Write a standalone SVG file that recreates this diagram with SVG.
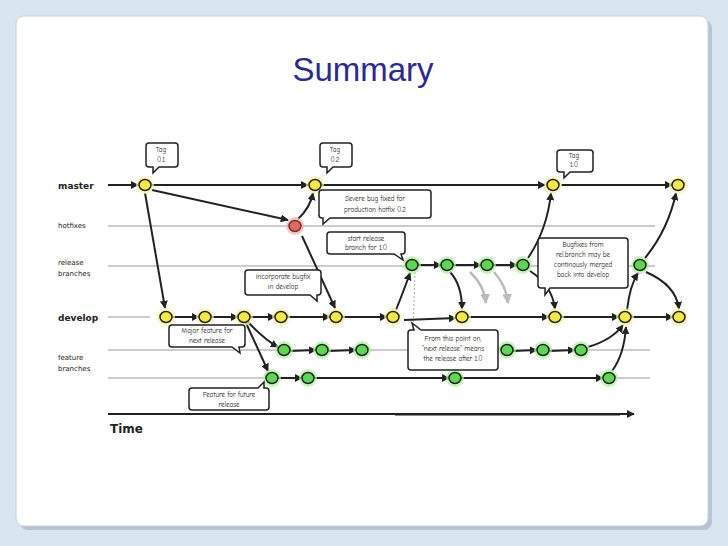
<svg xmlns="http://www.w3.org/2000/svg" width="728" height="546" viewBox="0 0 728 546">
<defs>
<marker id="ah" viewBox="0 0 10 10" refX="9" refY="5" markerWidth="4" markerHeight="4" orient="auto"><path d="M0,0 L10,5 L0,10 z" fill="#222"/></marker>
<marker id="ahg" viewBox="0 0 10 10" refX="9" refY="5" markerWidth="4" markerHeight="4" orient="auto"><path d="M0,0 L10,5 L0,10 z" fill="#bbb"/></marker>
<style>
.lane{stroke:#ccc;stroke-width:2}
.c{fill:none;stroke:#222;stroke-width:2;marker-end:url(#ah)}
.cg{fill:none;stroke:#bbb;stroke-width:2.5;marker-end:url(#ahg)}
.y{fill:#f2e84a;stroke:#222;stroke-width:1.5}
.g{fill:#5fd653;stroke:#222;stroke-width:1.5}
.r{fill:#dd6a5e;stroke:#733;stroke-width:1.5}
.gy{fill:#f7f3a0;opacity:.7}
.gg{fill:#aef0a0;opacity:.7}
.b{fill:#fff;stroke:#222;stroke-width:1.5}
.t{font-family:"Comic Neue","DejaVu Sans",sans-serif;font-size:7px;fill:#222;text-anchor:middle}
.l{font-family:"DejaVu Sans",sans-serif;font-size:7px;fill:#222}
.lb{font-family:"DejaVu Sans",sans-serif;font-size:9px;font-weight:bold;fill:#222}
</style>
</defs>
<rect width="728" height="546" fill="#d9e6f2"/>
<rect x="20" y="20" width="692" height="510" rx="8" fill="#b8c4d0"/>
<rect x="16" y="16" width="692" height="510" rx="8" fill="#fff" stroke="#c8d2dc"/>
<text x="363" y="81" font-family="Liberation Sans,sans-serif" font-size="33" fill="#2e2a8c" text-anchor="middle">Summary</text>

<g id="labels">
<text class="lb" x="58" y="189">master</text>
<text class="l" x="58" y="228">hotfixes</text>
<text class="l" x="58" y="265">release</text>
<text class="l" x="58" y="276">branches</text>
<text class="lb" x="58" y="321">develop</text>
<text class="l" x="58" y="360">feature</text>
<text class="l" x="58" y="371">branches</text>
<text x="110" y="433" font-family="DejaVu Sans,sans-serif" font-size="12" font-weight="bold" fill="#222">Time</text>
</g>

<g id="lanes">
<line class="lane" x1="108" y1="226" x2="655" y2="226"/>
<line class="lane" x1="108" y1="266" x2="655" y2="266"/>
<line class="lane" x1="108" y1="317" x2="150" y2="317"/>
<line class="lane" x1="108" y1="350" x2="650" y2="350"/>
<line class="lane" x1="108" y1="378" x2="650" y2="378"/>
<line x1="415" y1="272" x2="413" y2="330" stroke="#aaa" stroke-dasharray="2,2"/>
</g>

<g id="connectors">
<line class="c" x1="108" y1="185" x2="138" y2="185"/>
<line class="c" x1="152" y1="185" x2="308" y2="185"/>
<line class="c" x1="320" y1="185" x2="545" y2="185"/>
<line class="c" x1="561" y1="185" x2="672" y2="185"/>
<line class="c" x1="145" y1="193" x2="165" y2="308"/>
<line class="c" x1="152" y1="190" x2="288" y2="220"/>
<path class="c" d="M298,219 Q310,208 313,193"/>
<line class="c" x1="302" y1="236" x2="335" y2="308"/>
<line class="c" x1="172" y1="317" x2="199" y2="317"/>
<line class="c" x1="211" y1="317" x2="238" y2="317"/>
<line class="c" x1="250" y1="317" x2="275" y2="317"/>
<line class="c" x1="287" y1="317" x2="330" y2="317"/>
<line class="c" x1="342" y1="317" x2="387" y2="317"/>
<line class="c" x1="404" y1="320" x2="456" y2="318"/>
<line class="c" x1="468" y1="317" x2="549" y2="317"/>
<line class="c" x1="561" y1="317" x2="619" y2="317"/>
<line class="c" x1="631" y1="317" x2="673" y2="317"/>
<path class="c" d="M396,310 Q404,290 410,273"/>
<line class="c" x1="418" y1="265" x2="441" y2="265"/>
<line class="c" x1="453" y1="265" x2="481" y2="265"/>
<line class="c" x1="493" y1="265" x2="517" y2="265"/>
<path class="c" d="M450,272 Q462,285 462,309"/>
<path class="cg" d="M470,272 Q484,285 486,303"/>
<path class="cg" d="M494,272 Q506,285 508,303"/>
<path class="c" d="M528,258 Q547,230 551,193"/>
<path class="c" d="M530,271 Q552,285 555,309"/>
<path class="c" d="M645,258 Q668,230 676,193"/>
<path class="c" d="M646,272 Q676,285 679,309"/>
<path class="c" d="M627,310 Q630,285 638,273"/>
<path class="c" d="M248,322 Q265,340 278,347"/>
<line class="c" x1="246" y1="323" x2="268" y2="371"/>
<line class="c" x1="290" y1="351" x2="316" y2="350"/>
<line class="c" x1="328" y1="351" x2="356" y2="350"/>
<line class="c" x1="513" y1="351" x2="537" y2="350"/>
<line class="c" x1="549" y1="351" x2="575" y2="350"/>
<path class="c" d="M588,347 Q612,340 623,325"/>
<line class="c" x1="278" y1="378" x2="302" y2="378"/>
<line class="c" x1="314" y1="378" x2="449" y2="378"/>
<line class="c" x1="461" y1="378" x2="603" y2="378"/>
<path class="c" d="M612,371 Q624,355 626,327"/>
<line class="c" x1="108" y1="414" x2="634" y2="414"/>
<path d="M395,413 L620,413 L620,415.5 L395,415.5 z" fill="#222"/>
</g>

<g id="nodes">
<g id="m1"><circle class="gy" cx="145" cy="185" r="9"/><ellipse class="y" cx="145" cy="185" rx="6" ry="5.5"/></g>
<g id="m2"><circle class="gy" cx="315" cy="185" r="9"/><ellipse class="y" cx="315" cy="185" rx="6" ry="5.5"/></g>
<g id="m3"><circle class="gy" cx="553" cy="185" r="9"/><ellipse class="y" cx="553" cy="185" rx="6" ry="5.5"/></g>
<g id="m4"><circle class="gy" cx="678" cy="185" r="9"/><ellipse class="y" cx="678" cy="185" rx="6" ry="5.5"/></g>
<g id="h1"><circle fill="#f0b0a8" opacity=".7" cx="295" cy="226" r="9"/><ellipse class="r" cx="295" cy="226" rx="6" ry="5.5"/></g>
<g id="r1"><circle class="gg" cx="412" cy="265" r="9"/><ellipse class="g" cx="412" cy="265" rx="6" ry="5.5"/></g>
<g id="r2"><circle class="gg" cx="447" cy="265" r="9"/><ellipse class="g" cx="447" cy="265" rx="6" ry="5.5"/></g>
<g id="r3"><circle class="gg" cx="487" cy="265" r="9"/><ellipse class="g" cx="487" cy="265" rx="6" ry="5.5"/></g>
<g id="r4"><circle class="gg" cx="523" cy="265" r="9"/><ellipse class="g" cx="523" cy="265" rx="6" ry="5.5"/></g>
<g id="r5"><circle class="gg" cx="640" cy="265" r="9"/><ellipse class="g" cx="640" cy="265" rx="6" ry="5.5"/></g>
<g id="d1"><circle class="gy" cx="166" cy="317" r="9"/><ellipse class="y" cx="166" cy="317" rx="6" ry="5.5"/></g>
<g id="d2"><circle class="gy" cx="205" cy="317" r="9"/><ellipse class="y" cx="205" cy="317" rx="6" ry="5.5"/></g>
<g id="d3"><circle class="gy" cx="244" cy="317" r="9"/><ellipse class="y" cx="244" cy="317" rx="6" ry="5.5"/></g>
<g id="d4"><circle class="gy" cx="281" cy="317" r="9"/><ellipse class="y" cx="281" cy="317" rx="6" ry="5.5"/></g>
<g id="d5"><circle class="gy" cx="336" cy="317" r="9"/><ellipse class="y" cx="336" cy="317" rx="6" ry="5.5"/></g>
<g id="d6"><circle class="gy" cx="393" cy="317" r="9"/><ellipse class="y" cx="393" cy="317" rx="6" ry="5.5"/></g>
<g id="d7"><circle class="gy" cx="462" cy="317" r="9"/><ellipse class="y" cx="462" cy="317" rx="6" ry="5.5"/></g>
<g id="d8"><circle class="gy" cx="555" cy="317" r="9"/><ellipse class="y" cx="555" cy="317" rx="6" ry="5.5"/></g>
<g id="d9"><circle class="gy" cx="625" cy="317" r="9"/><ellipse class="y" cx="625" cy="317" rx="6" ry="5.5"/></g>
<g id="d10"><circle class="gy" cx="679" cy="317" r="9"/><ellipse class="y" cx="679" cy="317" rx="6" ry="5.5"/></g>
<g id="f1"><circle class="gg" cx="284" cy="350" r="9"/><ellipse class="g" cx="284" cy="350" rx="6" ry="5.5"/></g>
<g id="f2"><circle class="gg" cx="322" cy="350" r="9"/><ellipse class="g" cx="322" cy="350" rx="6" ry="5.5"/></g>
<g id="f3"><circle class="gg" cx="362" cy="350" r="9"/><ellipse class="g" cx="362" cy="350" rx="6" ry="5.5"/></g>
<g id="f4"><circle class="gg" cx="507" cy="350" r="9"/><ellipse class="g" cx="507" cy="350" rx="6" ry="5.5"/></g>
<g id="f5"><circle class="gg" cx="543" cy="350" r="9"/><ellipse class="g" cx="543" cy="350" rx="6" ry="5.5"/></g>
<g id="f6"><circle class="gg" cx="581" cy="350" r="9"/><ellipse class="g" cx="581" cy="350" rx="6" ry="5.5"/></g>
<g id="g1"><circle class="gg" cx="272" cy="378" r="9"/><ellipse class="g" cx="272" cy="378" rx="6" ry="5.5"/></g>
<g id="g2"><circle class="gg" cx="308" cy="378" r="9"/><ellipse class="g" cx="308" cy="378" rx="6" ry="5.5"/></g>
<g id="g3"><circle class="gg" cx="455" cy="378" r="9"/><ellipse class="g" cx="455" cy="378" rx="6" ry="5.5"/></g>
<g id="g4"><circle class="gg" cx="609" cy="378" r="9"/><ellipse class="g" cx="609" cy="378" rx="6" ry="5.5"/></g>
</g>

<g id="callouts">
<g id="tag01"><path class="b" d="M149,143 h26 q3,0 3,3 v18 q0,3 -3,3 h-16 l-6,6 l0,-6 h-4 q-3,0 -3,-3 v-18 q0,-3 3,-3 z"/><text class="t" x="161" y="152">Tag</text><text class="t" x="161" y="162">0.1</text></g>
<g id="tag02"><path class="b" d="M323,143 h26 q3,0 3,3 v18 q0,3 -3,3 h-16 l-6,6 l0,-6 h-4 q-3,0 -3,-3 v-18 q0,-3 3,-3 z"/><text class="t" x="335" y="152">Tag</text><text class="t" x="335" y="162">0.2</text></g>
<g id="tag10"><path class="b" d="M560,150 h30 q3,0 3,3 v16 q0,3 -3,3 h-20 l-6,6 l0,-6 h-4 q-3,0 -3,-3 v-16 q0,-3 3,-3 z"/><text class="t" x="574" y="158">Tag</text><text class="t" x="574" y="167">1.0</text></g>
<g id="severe"><path class="b" d="M322,190 h106 q3,0 3,3 v22 q0,3 -3,3 h-98 l-7,6 l0,-6 h-1 q-3,0 -3,-3 v-22 q0,-3 3,-3 z"/><text class="t" x="375" y="201">Severe bug fixed for</text><text class="t" x="375" y="212">production hotfix 0.2</text></g>
<g id="startrel"><path class="b" d="M330,232 h72 q3,0 3,3 v16 q0,3 -3,3 h-1 l2,6 l-9,-6 h-64 q-3,0 -3,-3 v-16 q0,-3 3,-3 z"/><text class="t" x="366" y="241">start release</text><text class="t" x="366" y="250">branch for 1.0</text></g>
<g id="incorp"><path class="b" d="M248,270 h70 q3,0 3,3 v19 q0,3 -3,3 h-1 l0,6 l-7,-6 h-62 q-3,0 -3,-3 v-19 q0,-3 3,-3 z"/><text class="t" x="283" y="279">incorporate bugfix</text><text class="t" x="283" y="289">in develop</text></g>
<g id="bugfixes"><path class="b" d="M541,238 h84 q3,0 3,3 v44 q0,3 -3,3 h-75 l-5,7 l0,-7 h-4 q-3,0 -3,-3 v-44 q0,-3 3,-3 z"/><text class="t" x="583" y="247">Bugfixes from</text><text class="t" x="583" y="257">rel.branch may be</text><text class="t" x="583" y="267">continously merged</text><text class="t" x="583" y="277">back into develop</text></g>
<g id="major"><path class="b" d="M172,325 h70 q3,0 3,3 v16 q0,3 -3,3 h-3 l1,6 l-8,-6 h-60 q-3,0 -3,-3 v-16 q0,-3 3,-3 z"/><text class="t" x="207" y="333">Major feature for</text><text class="t" x="207" y="343">next release</text></g>
<g id="fromthis"><path class="b" d="M411,330 h3 l-2,-7 l9,7 h74 q3,0 3,3 v34 q0,3 -3,3 h-84 q-3,0 -3,-3 v-34 q0,-3 3,-3 z"/><text class="t" x="453" y="341">From this point on,</text><text class="t" x="453" y="351">"next release" means</text><text class="t" x="453" y="361">the release after 1.0</text></g>
<g id="future"><path class="b" d="M192,388 h66 l6,-6 l0,6 h2 q3,0 3,3 v16 q0,3 -3,3 h-74 q-3,0 -3,-3 v-16 q0,-3 3,-3 z"/><text class="t" x="229" y="397">Feature for future</text><text class="t" x="229" y="407">release</text></g>
</g>
</svg>
